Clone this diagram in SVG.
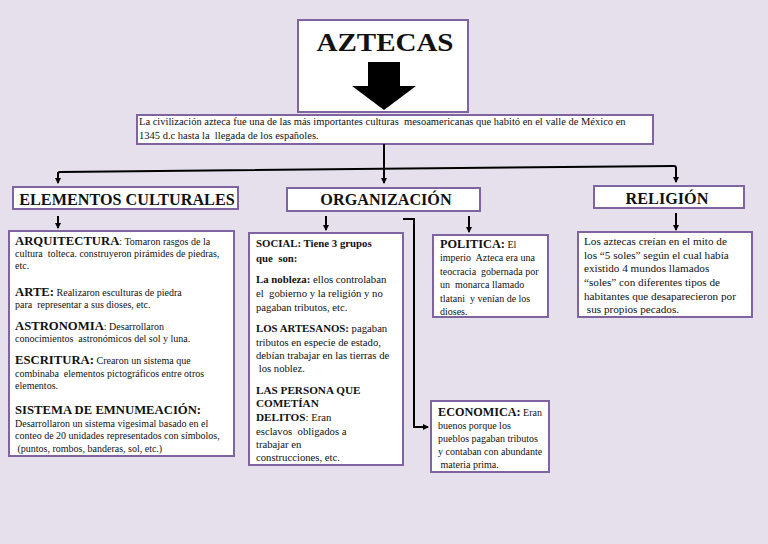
<svg xmlns="http://www.w3.org/2000/svg" width="768" height="544" viewBox="0 0 768 544" xml:space="preserve">
<style>
.bg{fill:#e5e0ec}
.box{fill:#ffffff;stroke:#8064a2;stroke-width:2}
text{font-family:"Liberation Serif","Times New Roman",serif;fill:#111;white-space:pre}
.t{font-size:10px}
.r{font-size:11.2px}
.h{font-size:12.7px;font-weight:bold}
.hm{font-size:10.8px;font-weight:bold}
.hp{font-size:11.2px;font-weight:bold}
.b{font-size:10.7px}
.title{font-size:16.2px;font-weight:bold;text-anchor:middle}
.con{fill:none;stroke:#000;stroke-width:2}
</style>
<defs>
<marker id="ah" markerWidth="6" markerHeight="6" refX="5" refY="3" orient="auto" markerUnits="userSpaceOnUse">
<path d="M0,0 L6,3 L0,6 Z" fill="#000"/>
</marker>
</defs>
<rect class="bg" x="0" y="0" width="768" height="544"/>

<g id="aztecas">
<rect class="box" x="298" y="20" width="170" height="92"/>
<text x="385" y="51" text-anchor="middle" font-size="25" font-weight="bold" textLength="137" lengthAdjust="spacingAndGlyphs">AZTECAS</text>
<path d="M368,62 H400 V86 H416 L384,110 L352,86 H368 Z" fill="#000"/>
</g>

<g id="intro">
<rect class="box" x="137" y="115" width="516" height="29"/>
<text class="t" x="139" y="125" style="font-size:10.5px">La civilización azteca fue una de las más importantes culturas  mesoamericanas que habitó en el valle de México en</text>
<text class="t" x="139" y="139" style="font-size:10.5px">1345 d.c hasta la  llegada de los españoles.</text>
</g>

<g id="elementos">
<rect class="box" x="13" y="187" width="225" height="22"/>
<text class="title" x="127" y="205">ELEMENTOS CULTURALES</text>
</g>
<g id="organizacion">
<rect class="box" x="287" y="188" width="193" height="23"/>
<text class="title" x="386" y="205">ORGANIZACIÓN</text>
</g>
<g id="religion">
<rect class="box" x="594" y="186" width="150" height="22"/>
<text class="title" x="667" y="204">RELIGIÓN</text>
</g>

<g id="elementos-detalle">
<rect class="box" x="9" y="231" width="225" height="225"/>
<text x="15" y="245"><tspan class="h">ARQUITECTURA</tspan><tspan class="t">: Tomaron rasgos de la</tspan></text>
<text class="t" x="15" y="257">cultura  tolteca. construyeron pirámides de piedras,</text>
<text class="t" x="15" y="269">etc.</text>
<text x="15" y="296"><tspan class="h">ARTE:</tspan><tspan class="t"> Realizaron esculturas de piedra</tspan></text>
<text class="t" x="15" y="308">para  representar a sus dioses, etc.</text>
<text x="15" y="330"><tspan class="h">ASTRONOMIA</tspan><tspan class="t">: Desarrollaron</tspan></text>
<text class="t" x="15" y="342">conocimientos  astronómicos del sol y luna.</text>
<text x="15" y="364"><tspan class="h">ESCRITURA:</tspan><tspan class="t"> Crearon un sistema que</tspan></text>
<text class="t" x="15" y="377">combinaba  elementos pictográficos entre otros</text>
<text class="t" x="15" y="389">elementos.</text>
<text class="h" x="15" y="414">SISTEMA DE EMNUMEACIÓN:</text>
<text class="t" x="15" y="427">Desarrollaron un sistema vigesimal basado en el</text>
<text class="t" x="15" y="439">conteo de 20 unidades representados con símbolos,</text>
<text class="t" x="15" y="452"> (puntos, rombos, banderas, sol, etc.)</text>
</g>

<g id="social">
<rect class="box" x="249" y="233" width="154" height="232"/>
<text class="hm" x="256" y="247">SOCIAL: Tiene 3 grupos</text>
<text class="hm" x="256" y="262">que  son:</text>
<text x="256" y="283"><tspan class="hm">La nobleza:</tspan><tspan class="b"> ellos controlaban</tspan></text>
<text class="b" x="256" y="297">el  gobierno y la religión y no</text>
<text class="b" x="256" y="311">pagaban tributos, etc.</text>
<text x="256" y="332"><tspan class="hm">LOS ARTESANOS:</tspan><tspan class="b"> pagaban</tspan></text>
<text class="b" x="256" y="346">tributos en especie de estado,</text>
<text class="b" x="256" y="359">debían trabajar en las tierras de</text>
<text class="b" x="256" y="372"> los noblez.</text>
<text class="hp" x="256" y="394">LAS PERSONA QUE</text>
<text class="hp" x="256" y="407">COMETÍAN</text>
<text x="256" y="421"><tspan class="hp">DELITOS</tspan><tspan class="b">: Eran</tspan></text>
<text class="b" x="256" y="435">esclavos  obligados a</text>
<text class="b" x="256" y="448">trabajar en</text>
<text class="b" x="256" y="461">construcciones, etc.</text>
</g>

<g id="politica">
<rect class="box" x="433" y="235" width="115" height="82"/>
<text x="440" y="248"><tspan class="h" style="font-size:12.3px">POLITICA:</tspan><tspan class="t"> El</tspan></text>
<text class="t" x="440" y="261">imperio  Azteca era una</text>
<text class="t" x="440" y="275">teocracia  gobernada por</text>
<text class="t" x="440" y="288">un  monarca llamado</text>
<text class="t" x="440" y="302">tlatani  y venían de los</text>
<text class="t" x="440" y="315">dioses.</text>
</g>

<g id="economica">
<rect class="box" x="431" y="401" width="118" height="71"/>
<text x="438" y="416"><tspan class="h" style="font-size:12.2px">ECONOMICA:</tspan><tspan class="t"> Eran</tspan></text>
<text class="t" x="438" y="429">buenos porque los</text>
<text class="t" x="438" y="442">pueblos pagaban tributos</text>
<text class="t" x="438" y="455">y contaban con abundante</text>
<text class="t" x="438" y="468"> materia prima.</text>
</g>

<g id="religion-detalle">
<rect class="box" x="578" y="232" width="174" height="85"/>
<text class="r" x="584" y="245">Los aztecas creían en el mito de</text>
<text class="r" x="584" y="259">los “5 soles” según el cual había</text>
<text class="r" x="584" y="272">existido 4 mundos llamados</text>
<text class="r" x="584" y="286">“soles” con diferentes tipos de</text>
<text class="r" x="584" y="300">habitantes que desaparecieron por</text>
<text class="r" x="584" y="313"> sus propios pecados.</text>
</g>

<g id="connectors">
<path class="con" d="M384,144 V183" marker-end="url(#ah)"/>
<path class="con" d="M58,174 Q58,172 60,172 L674,166 Q676,166 676,168 V182" marker-end="url(#ah)"/>
<path class="con" d="M58,172 V183" marker-end="url(#ah)"/>
<path class="con" d="M58,216 V228" stroke-width="1.5" marker-end="url(#ah)"/>
<path class="con" d="M326,216 V230" marker-end="url(#ah)"/>
<path class="con" d="M469,216 V232" marker-end="url(#ah)"/>
<path class="con" d="M676,213 V230" marker-end="url(#ah)"/>
<path class="con" d="M403,219 H414 V427 H428" marker-end="url(#ah)"/>
</g>
</svg>
